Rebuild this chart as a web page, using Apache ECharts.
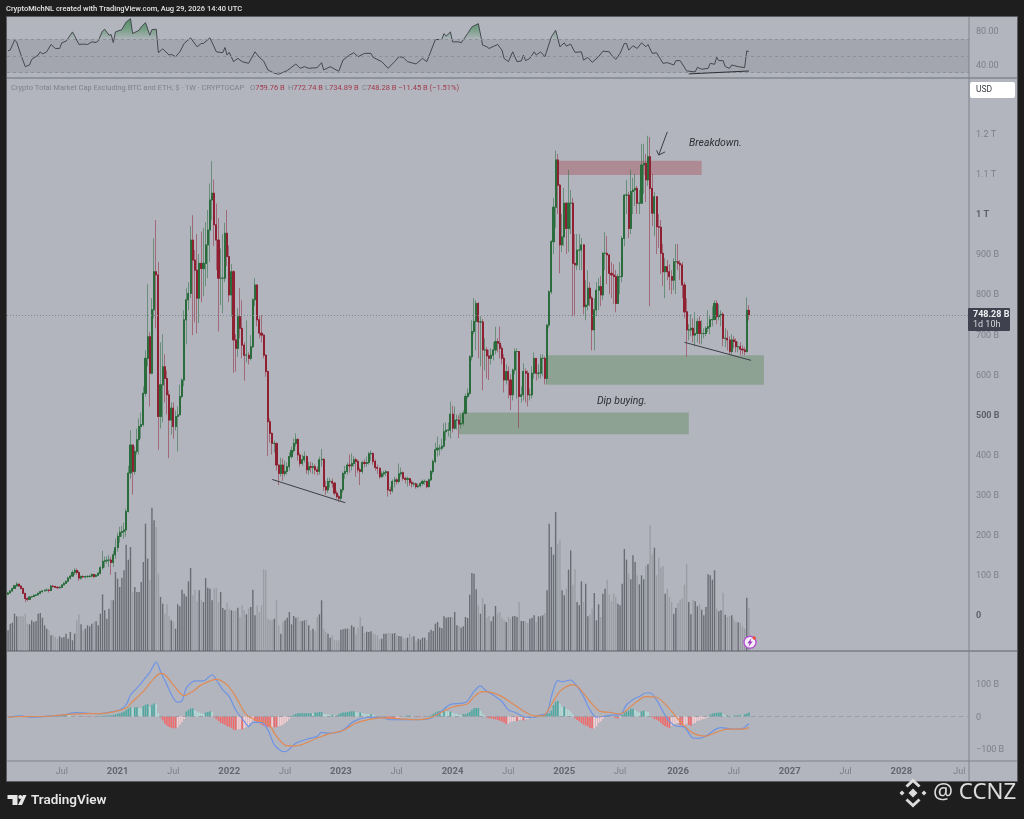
<!DOCTYPE html>
<html><head><meta charset="utf-8">
<style>html,body{margin:0;padding:0;background:#1e1e1e}#c{width:1024px;height:819px}</style>
<script src="https://cdn.jsdelivr.net/npm/echarts@6/dist/echarts.min.js"></script>
</head><body><div id="c"></div>
<script>
// Weekly candles, values in billions of USD
const opens=[52,55,60,66,73,77,72,66,54,41,39,45,46,49,50,54,58,60,62,62,61,72,71,69,68,69,75,79,84,92,97,106,111,106,92,96,95,96,96,97,101,96,99,104,118,134,135,137,137,131,150,168,196,206,208,212,258,354,424,358,408,437,470,475,553,640,694,603,761,856,848,495,574,619,590,549,486,516,470,495,499,545,586,736,786,802,935,885,860,790,877,864,877,923,960,1035,1052,973,935,840,840,840,952,894,798,856,686,665,744,715,673,648,648,640,669,786,823,736,703,698,648,607,482,453,428,428,374,353,374,353,358,370,395,410,428,438,399,378,387,395,362,370,368,370,362,358,387,388,320,312,333,333,329,304,295,291,312,353,358,374,372,378,387,383,362,358,380,378,380,402,403,383,368,366,345,352,355,357,312,310,333,337,333,352,355,341,338,340,330,327,327,320,322,328,333,333,320,337,358,383,412,416,416,421,457,461,461,501,466,486,486,476,478,503,545,553,644,707,732,777,731,731,661,661,646,640,648,661,682,678,665,640,586,607,586,549,611,657,657,545,549,607,603,549,549,603,640,603,603,640,640,590,723,806,931,1017,1135,1072,923,943,1027,964,1027,1027,877,873,910,910,923,769,773,815,790,711,761,810,819,798,902,902,898,852,848,844,777,844,844,939,1047,1047,964,1056,1060,1064,1027,1027,1122,1126,1085,1143,1064,1002,1043,968,967,902,856,869,856,844,835,881,881,877,873,823,756,711,711,715,698,702,732,702,702,702,715,719,736,737,777,744,748,750,690,690,686,657,686,682,669,669,663,661,657,759.76];
const closes=[55,60,66,73,77,72,66,54,41,39,45,46,49,50,54,58,60,62,62,61,72,71,69,68,69,75,79,84,92,97,106,111,106,92,96,95,96,96,97,101,96,99,104,118,134,135,137,137,131,150,168,196,206,208,212,258,354,424,358,408,437,470,475,553,640,694,603,761,856,848,495,574,619,590,549,486,516,470,495,499,545,586,736,786,802,935,885,860,790,877,864,877,923,960,1035,1052,973,935,840,840,840,952,894,798,856,686,665,744,715,673,648,648,640,669,786,823,736,703,698,648,607,482,453,428,428,374,353,374,353,358,370,395,410,428,438,399,378,387,395,362,370,368,370,362,358,387,388,320,312,333,333,329,304,295,291,312,353,358,374,372,378,387,383,362,358,380,378,380,402,403,383,368,366,345,352,355,357,312,310,333,337,333,352,355,341,338,340,330,327,327,320,322,328,333,333,320,337,358,383,412,416,416,421,457,461,461,501,466,486,486,476,478,503,545,553,644,707,732,777,731,731,661,661,646,640,648,661,682,678,665,640,586,607,586,549,611,657,657,545,549,607,603,549,549,603,640,603,603,640,640,590,723,806,931,1017,1135,1072,923,943,1027,964,1027,1027,877,873,910,910,923,769,773,815,790,711,761,810,819,798,902,902,898,852,848,844,777,844,844,939,1047,1047,964,1056,1060,1064,1027,1027,1122,1126,1085,1143,1064,1002,1043,968,967,902,856,869,856,844,835,881,881,877,873,823,756,711,711,715,698,702,732,702,702,702,715,719,736,737,777,744,748,750,690,690,686,657,686,682,669,669,663,661,657,759.76,748.28];
const highs=[58,62,68,75,82,78,74,68,55,44,47,48,51,52,56,60,62,64,66,65,75,75,73,72,72,77,82,86,96,100,112,117,116,110,99,99,98,99,100,104,103,102,108,122,160,146,146,150,145,160,190,205,220,222,230,265,372,461,420,420,465,490,505,570,660,825,705,790,939,985,880,680,700,650,610,560,530,530,510,520,575,590,760,815,830,970,997,910,950,900,956,965,980,1010,1076,1132,1086,1026,990,914,950,978,1010,922,875,860,700,765,815,785,680,735,655,698,790,840,825,745,748,700,650,610,490,455,435,428,375,392,390,385,380,405,420,440,453,440,405,400,408,398,382,382,380,376,370,395,414,392,335,342,342,340,332,310,300,315,358,372,380,400,403,396,392,388,368,385,388,395,407,410,405,388,375,368,358,360,362,358,320,338,345,342,378,368,358,345,345,342,336,332,330,328,332,338,338,335,340,362,388,430,445,425,440,478,480,480,532,522,520,500,498,500,510,552,565,648,735,790,785,780,745,738,690,668,662,665,680,719,690,719,672,650,625,620,600,615,665,665,620,570,628,615,610,565,620,655,640,625,650,650,645,725,810,935,1040,1158,1150,1075,1000,1065,1030,1110,1060,1040,950,950,950,940,925,835,860,830,795,790,830,840,845,905,955,945,900,880,875,860,850,880,945,1050,1085,1055,1110,1090,1100,1070,1060,1175,1175,1150,1195,1192,1100,1055,1045,1000,985,925,890,885,875,860,890,925,925,885,880,830,790,725,750,740,755,740,745,735,715,720,760,745,770,785,785,775,760,755,715,710,695,700,695,690,682,680,672,668,792,772.74];
const lows=[50,54,58,65,70,70,64,52,32,34,38,43,45,47,49,52,56,59,59,56,60,68,67,65,66,68,74,77,82,88,95,100,100,85,88,92,91,92,93,95,92,94,97,101,112,118,128,120,100,120,140,158,180,195,190,195,256,340,300,350,400,400,440,470,545,620,520,600,740,715,412,465,480,530,500,391,450,440,460,408,500,540,570,675,760,790,698,730,702,728,780,795,820,840,880,985,920,860,707,773,752,830,870,780,744,604,607,644,690,640,584,630,625,635,665,770,720,690,680,640,594,396,430,400,405,360,324,345,335,345,350,360,390,405,420,385,370,372,380,352,350,355,352,350,348,350,370,310,300,305,318,318,298,290,282,285,305,340,350,355,360,370,345,355,324,352,368,370,375,385,375,360,352,340,342,345,346,295,300,305,318,325,328,345,335,328,320,322,318,320,315,316,318,322,325,316,318,334,352,378,395,398,410,418,435,445,440,455,462,462,441,465,472,500,540,548,635,700,660,640,620,560,610,590,586,625,635,650,655,640,625,555,575,540,511,535,600,540,466,530,535,530,520,535,540,590,585,590,590,595,575,575,715,800,900,965,1000,852,905,920,900,905,950,745,745,860,860,860,750,735,760,770,660,660,745,760,770,785,860,825,800,790,775,755,775,800,830,920,1000,940,950,1000,1020,1000,1000,1040,1050,1030,1070,770,970,945,900,915,850,820,790,835,810,800,810,800,860,835,790,740,644,685,695,680,670,680,675,675,690,695,705,700,720,735,725,735,720,670,668,660,650,650,665,655,655,648,650,648,655,734.89];
const volumes=[62,82,85,112,104,104,104,104,112,82,80,92,87,90,112,114,100,77,67,62,47,47,42,37,44,40,42,52,37,57,32,52,92,110,80,62,67,77,74,82,87,89,77,112,170,122,97,127,152,152,237,217,192,220,242,319,274,312,177,192,177,177,207,267,382,277,212,430,392,372,232,162,142,112,140,104,92,87,67,140,134,184,172,164,209,249,167,184,149,182,154,147,219,190,187,152,187,190,147,177,129,124,145,127,122,120,122,130,102,137,122,110,127,132,184,107,137,117,137,245,242,97,94,92,97,152,77,52,87,92,100,117,80,105,100,102,90,90,92,94,77,62,67,60,102,110,152,67,57,52,40,47,32,32,32,64,65,67,67,67,77,72,50,70,102,74,54,58,57,59,52,50,47,37,37,52,52,54,54,52,54,47,45,44,40,37,40,52,42,44,30,37,34,40,40,32,56,64,60,82,87,71,68,104,100,101,102,101,117,77,75,70,74,102,99,169,234,232,185,137,112,159,140,100,105,89,104,135,112,117,100,94,87,102,97,104,105,102,147,90,90,87,84,97,100,107,87,104,104,107,114,182,382,312,289,417,322,334,182,167,187,244,302,199,245,147,137,209,147,202,104,110,127,174,92,140,102,172,187,214,170,149,172,162,142,137,202,306,274,232,215,287,267,227,200,227,215,255,260,377,290,310,227,280,250,255,172,187,162,147,112,130,144,154,159,199,260,147,110,154,149,134,140,124,107,132,230,227,214,242,127,119,122,175,109,102,105,107,94,87,86,84,74,67,160,130];
const macdHist=[0,0,0,0,0,-1,-1,-2,-2,-2,-2,-1,-1,-1,-1,-1,-1,0,0,0,1,1,2,2,3,4,5,5,4,3,2,1,0,0,-1,-1,-1,0,0,-1,-1,1,1,2,2,3,3,4,4,5,7,8,10,12,15,20,25,28,27,28,28,26,25,32,36,38,30,36,40,38,10,-3,-12,-22,-28,-32,-35,-36,-36,-33,-25,-18,-8,15,20,25,25,20,15,12,10,8,12,14,16,14,-3,-8,-14,-20,-22,-25,-30,-32,-35,-40,-42,-40,-38,-40,-35,-32,-26,-20,-12,-14,-20,-20,-25,-28,-30,-32,-33,-32,-33,-33,-30,-28,-25,-20,-15,-8,2,5,8,10,10,10,10,10,10,10,9,12,12,14,14,8,7,6,5,5,3,3,7,10,12,12,14,15,16,16,13,12,12,11,9,8,7,7,5,3,2,1,-1,-2,-3,-5,-6,-6,-6,-5,-4,-3,-2,2,3,3,2,-1,-2,-2,-2,-1,1,-1,2,3,8,12,15,17,16,18,16,15,15,12,9,8,5,4,7,8,10,14,20,25,26,26,18,8,3,-4,-5,-6,-8,-9,-11,-13,-15,-19,-23,-22,-17,-15,-14,-14,-11,-10,-12,-9,-8,-4,-2,1,2,3,4,5,6,8,10,18,35,45,48,40,30,30,24,20,15,6,-5,-11,-15,-20,-25,-28,-30,-35,-37,-36,-30,-20,-15,-8,1,3,4,3,-2,-5,-6,-3,5,12,15,18,24,24,20,15,12,16,18,16,14,2,-3,-8,-10,-14,-20,-26,-30,-33,-36,-28,-24,-22,-20,-26,-28,-26,-22,-26,-28,-22,-20,-14,-12,-9,-8,-5,-2,6,9,11,11,12,12,7,4,4,3,2,3,3,3,5,3,7,9,12];
const rsiWeeks=[0,1,3,4,6,8,10,11,14,15,16,18,20,22,24,25,27,30,31,33,35,37,39,41,42,44,45,47,48,49,50,53,55,57,58,61,62,64,66,67,69,70,72,75,76,78,80,82,85,88,90,91,94,97,100,101,102,103,105,107,109,112,115,117,119,121,124,126,130,134,136,138,140,144,146,147,150,154,156,159,161,163,166,169,170,174,177,180,182,184,186,190,193,195,199,202,203,204,206,207,210,211,214,216,219,221,223,224,228,230,231,233,235,237,239,240,241,243,245,246,248,250,253,255,257,259,260,262,264,267,268,270,272,275,277,280,281,283,285,287,288,289,291,293,295,297,298,300,302,305,307,310,311,313,316,320,321,323,326,327,329,330,331,333,334,336,337,340,343,344,345];
const rsiValues=[56.2,57,68.9,66.9,51.1,37.2,39.2,45.9,51.1,55,52.3,55,63.8,59,59,65.7,67.7,78.8,74.1,63.8,64.2,63.8,66.9,66.1,68.1,80,82,74.9,75.6,66.1,78.8,81.6,90.7,94.7,76.8,80.8,84.8,89.9,74.9,81.6,82,53.9,58.6,51.1,51.9,49.1,55,65,71.7,61,65,65,71.7,55,53.9,60.2,51.1,54.3,43.2,47.1,43.2,41.2,55,48.3,44,33.3,29.3,28.1,32.5,40.4,35.2,37.2,35.2,36,42,33.3,37.2,31.7,45.1,51.1,53.9,49.1,53.1,53.1,48.3,43.2,35.2,43.2,49.1,48.3,43.2,40.4,47.1,43.2,69.7,69.7,76.8,73.7,78.8,66.9,66.9,65.7,76.8,84.8,88.7,63,61,59,63.8,57,47.1,43.2,55,43.2,44,51.1,44.4,47.1,55,51.1,55,49.1,72.9,80.8,61,65.7,61.8,64.2,54.3,55,45.1,48.3,42.4,49.1,55.8,55,51.1,45.9,53.1,65,65,57,62.2,59,65.7,61,63.8,53.1,53.9,41.2,42,39.2,44.4,44.4,32.1,30.9,36.4,34.1,35.2,41.2,40,48.3,44.4,44.4,37.2,35.2,39.2,37.2,36,56.2,55];
const macdWeeks=[0,6,10,20,26,31,37,43,48,52,55,57,60,62,65,66,69,71,74,77,79,81,83,86,88,91,95,97,100,103,106,110,112,114,118,121,124,127,129,131,134,140,144,146,149,155,161,167,173,178,183,189,196,201,206,212,214,217,220,222,227,230,233,236,241,245,248,251,253,256,258,262,265,268,271,274,277,282,285,288,292,294,297,299,302,305,308,311,315,319,322,326,329,332,338,342,345];
const macdValues=[-2,2,-2,2,5,12,10,9,14,20,36,66,87,102,128,135,167,138,97,56,44,48,87,107,109,109,128,112,82,61,20,-15,-31,-18,-18,-41,-87,-105,-108,-100,-82,-68,-61,-49,-51,-46,-15,-3,-2,-10,-10,-10,-7,12,37,41,48,77,94,82,61,46,20,13,-2,-3,5,10,61,110,107,112,92,61,20,-2,0,5,5,36,56,61,72,72,51,15,-15,-29,-33,-66,-67,-56,-41,-34,-39,-37,-22];
const signalWeeks=[0,6,15,26,35,43,49,55,58,63,68,71,73,77,82,86,90,97,102,106,111,116,121,125,130,134,144,149,156,162,169,175,183,190,196,201,207,214,217,221,225,230,235,241,245,249,253,257,263,266,271,276,280,285,291,297,302,307,313,319,325,330,335,342,345];
const signalValues=[-3,0,0,5,9,9,14,26,46,77,117,132,128,97,64,77,97,114,97,61,5,-12,-20,-61,-90,-90,-66,-54,-43,-20,-8,-4,-7,-10,-5,10,29,39,61,76,74,61,39,13,2,2,36,77,98,87,46,15,13,8,36,61,59,31,-15,-51,-60,-48,-39,-39,-34];
const rsiTrendA=[[317,28.5],[345,32]];
const fallTrendA=[[123,338],[157,280]];
const fallTrendB=[[315,680],[346,635]];
const arrowFrom=[307,1205], arrowTo=[303,1147], arrowWingA=[302.4,1159], arrowWingB=[306,1155];
const redZone=[256,323,1097,1133];
const greenZoneA=[251,352,574,648];
const greenZoneB=[210,317,451,505];
const lastClose=748.28;
const tickWeeks=[25,51,77,103,129,155,181,207,233,259,285,312,338,364,390,416,443];
const tickLabels=['Jul','2021','Jul','2022','Jul','2023','Jul','2024','Jul','2025','Jul','2026','Jul','2027','Jul','2028','Jul'];
const priceTicks=[0,100,200,300,400,500,600,700,800,900,1000,1100,1200];
const rsiTicks=[40,80];
const macdTicks=[-100,0,100];

const categories=[];
for(let i=0;i<448;i++){const d=new Date(Date.UTC(2020,0,6+7*i));categories.push(d.toISOString().slice(0,10));}
const zip=(a,b)=>a.map((v,i)=>[v,b[i]]);
const FONT='Roboto, "Liberation Sans", sans-serif';
const AX='#7c7f88';
const L=7,W=962;
const fmtPrice=v=>{
  if(v===0) return '{b|0}';
  if(v===500) return '{b|500 B}';
  if(v===1000) return '{b|1 T}';
  if(v>1000) return (v/1000).toFixed(1)+' T';
  return v+' B';
};
const hidX=g=>({type:'category',gridIndex:g,data:categories,boundaryGap:true,axisLine:{show:false},axisTick:{show:false},axisLabel:{show:false},splitLine:{show:false}});
const yBase=(g,min,max,ticks,fmt)=>({type:'value',gridIndex:g,position:'right',min,max,scale:false,
  axisLine:{show:false},axisTick:{show:false},splitLine:{show:false},
  axisLabel:{customValues:ticks,color:AX,fontFamily:FONT,fontSize:9,margin:7,padding:[2,0,0,0],formatter:fmt,
    rich:{b:{color:'#5d6068',fontFamily:FONT,fontSize:9,fontWeight:'bold'}}}});
const overbought={type:'linear',x:0,y:78,x2:0,y2:17,global:true,colorStops:[
  {offset:0,color:'rgba(82,145,96,0)'},{offset:0.634,color:'rgba(82,145,96,0)'},
  {offset:0.634,color:'rgba(82,145,96,0.05)'},{offset:0.8,color:'rgba(70,140,88,0.55)'},{offset:1,color:'rgba(60,130,80,0.85)'}]};
const histColor=(v,i)=>{
  const p=i?macdHist[i-1]:0;
  if(v>=0) return v>=p?'#4ea89f':'#b3dcd8';
  return v<=p?'#ee6b6b':'#f6cdd0';
};
const labelO=(x,letter,val)=>({type:'text',silent:true,z:20,x,y:88,style:{text:'{o|'+letter+'}'+val,fill:'#a03a4a',font:'7.5px '+FONT,textVerticalAlign:'middle',rich:{o:{fill:'#7f828b',font:'7.5px '+FONT}}}});
const option={
  backgroundColor:'#1e1e1e',animation:false,
  grid:[
    {left:L,width:W,top:17,height:61,containLabel:false},
    {left:L,width:W,top:78,height:573,containLabel:false},
    {left:L,width:W,top:651,height:110,containLabel:false}
  ],
  xAxis:[hidX(0),hidX(1),
    Object.assign(hidX(2),{axisLabel:{show:true,color:AX,fontFamily:FONT,fontSize:9,margin:6,hideOverlap:false,
      interval:(i)=>tickWeeks.includes(i),
      formatter:(v,i)=>{const k=tickWeeks.indexOf(i);if(k<0)return '';const t=tickLabels[k];return t==='Jul'?t:'{y|'+t+'}';},
      rich:{y:{color:'#63666e',fontFamily:FONT,fontSize:9.5,fontWeight:'bold'}}}})
  ],
  yAxis:[
    yBase(0,23.6,96.7,rsiTicks,v=>v.toFixed(2)),
    yBase(1,-89.8,1339.2,priceTicks,fmtPrice),
    {type:'value',gridIndex:1,min:0,max:1719,show:false,splitLine:{show:false}},
    yBase(2,-136.5,200.9,macdTicks,v=>v===0?'0':(v<0?'\u2212100 B':'100 B'))
  ],
  series:[
    {name:'RSI',type:'line',xAxisIndex:0,yAxisIndex:0,data:zip(rsiWeeks,rsiValues),showSymbol:false,symbol:'none',z:4,
      lineStyle:{color:'#45484f',width:1},
      areaStyle:{origin:70,color:overbought,opacity:1},
      markArea:{silent:true,itemStyle:{color:'rgba(120,122,130,0.26)'},data:[[{yAxis:30},{yAxis:70}]]},
      markLine:{silent:true,symbol:'none',label:{show:false},lineStyle:{color:'#8d9098',type:[3,3],width:1},data:[{yAxis:70},{yAxis:50},{yAxis:30}]}},
    {name:'RSI trend',type:'line',xAxisIndex:0,yAxisIndex:0,data:rsiTrendA,showSymbol:false,symbol:'none',z:5,lineStyle:{color:'#2e3036',width:1}},
    {name:'Volume',type:'bar',xAxisIndex:1,yAxisIndex:2,barWidth:1.4,z:1,
      data:volumes.map((v,i)=>({value:v,itemStyle:{color:closes[i]>=opens[i]?'#6a6c74':'#9b9da5'}}))},
    {name:'Zones',type:'line',xAxisIndex:1,yAxisIndex:1,data:[],z:2,
      markArea:{silent:true,data:[
        [{coord:[redZone[0],redZone[3]],itemStyle:{color:'rgba(172,110,122,0.6)'}},{coord:[redZone[1],redZone[2]]}],
        [{coord:[greenZoneA[0],greenZoneA[3]],itemStyle:{color:'#8ea294'}},{coord:[greenZoneA[1],greenZoneA[2]]}],
        [{coord:[greenZoneB[0],greenZoneB[3]],itemStyle:{color:'#8ea294'}},{coord:[greenZoneB[1],greenZoneB[2]]}]
      ]}},
    {name:'Wicks',type:'candlestick',xAxisIndex:1,yAxisIndex:1,barWidth:1.6,z:3,
      data:opens.map((o,i)=>[o,closes[i],lows[i],highs[i]]),
      itemStyle:{color:'rgba(46,112,66,0.5)',color0:'rgba(146,44,64,0.5)',borderColor:'rgba(46,112,66,0.55)',borderColor0:'rgba(146,44,64,0.55)',borderWidth:1},
      markLine:{silent:true,symbol:'none',label:{show:false},lineStyle:{color:'#83868e',type:[1,2],width:1},data:[{yAxis:lastClose}]}},
    {name:'Crypto Total Market Cap Excluding BTC and ETH',type:'candlestick',xAxisIndex:1,yAxisIndex:1,barWidth:1.6,z:4,
      data:opens.map((o,i)=>[o,closes[i],Math.min(o,closes[i]),Math.max(o,closes[i])]),
      itemStyle:{color:'#2a6c3c',color0:'#8e2031',borderColor:'#2a6c3c',borderColor0:'#8e2031',borderWidth:1}},
    {name:'Trend A',type:'line',xAxisIndex:1,yAxisIndex:1,data:fallTrendA,showSymbol:false,symbol:'none',z:6,lineStyle:{color:'#3c3e45',width:1}},
    {name:'Trend B',type:'line',xAxisIndex:1,yAxisIndex:1,data:fallTrendB,showSymbol:false,symbol:'none',z:6,lineStyle:{color:'#3c3e45',width:1}},
    {name:'Arrow',type:'line',xAxisIndex:1,yAxisIndex:1,data:[],z:6,
      markLine:{silent:true,label:{show:false},animation:false,symbol:'none',lineStyle:{color:'#3c3e45',width:1,type:'solid'},
        data:[[{coord:arrowFrom},{coord:arrowTo}],[{coord:arrowWingA},{coord:arrowTo}],[{coord:arrowWingB},{coord:arrowTo}]]}},
    {name:'Histogram',type:'bar',xAxisIndex:2,yAxisIndex:3,barWidth:1.6,z:2,
      data:macdHist.map((v,i)=>({value:v,itemStyle:{color:histColor(v,i)}})),
      markLine:{silent:true,symbol:'none',label:{show:false},lineStyle:{color:'#9a9da5',type:[4,4],width:1},data:[{yAxis:0}]}},
    {name:'MACD',type:'line',xAxisIndex:2,yAxisIndex:3,data:zip(macdWeeks,macdValues),showSymbol:false,symbol:'none',smooth:0.3,z:4,lineStyle:{color:'#6f94e4',width:1.2}},
    {name:'Signal',type:'line',xAxisIndex:2,yAxisIndex:3,data:zip(signalWeeks,signalValues),showSymbol:false,symbol:'none',smooth:0.3,z:5,lineStyle:{color:'#df8a54',width:1.2}}
  ],
  graphic:{elements:[
    {type:'rect',silent:true,z:-10,shape:{x:6.5,y:16.5,width:1011,height:765},style:{fill:'#b2b5be',stroke:'#5a5c62',lineWidth:1}},
    {type:'line',silent:true,z:8,shape:{x1:7,y1:78,x2:1017,y2:78},style:{stroke:'#6b6e75',lineWidth:1}},
    {type:'line',silent:true,z:8,shape:{x1:7,y1:651,x2:1017,y2:651},style:{stroke:'#5f6168',lineWidth:1}},
    {type:'line',silent:true,z:8,shape:{x1:7,y1:761,x2:1017,y2:761},style:{stroke:'#7f828a',lineWidth:1}},
    {type:'line',silent:true,z:8,shape:{x1:969,y1:17,x2:969,y2:781},style:{stroke:'#80838b',lineWidth:1}},
    {type:'text',silent:true,z:20,x:6,y:9,style:{text:'CryptoMichNL created with TradingView.com, Aug 29, 2026 14:40 UTC',fill:'#e4e4e4',font:'500 7.5px '+FONT,textVerticalAlign:'middle'}},
    {type:'text',silent:true,z:20,x:11,y:88,style:{text:'Crypto Total Market Cap Excluding BTC and ETH, $ \u00b7 1W \u00b7 CRYPTOCAP',fill:'#7f828b',font:'7.5px '+FONT,textVerticalAlign:'middle'}},
    labelO(250,'O','759.76 B'),labelO(288,'H','772.74 B'),labelO(325,'L','734.89 B'),labelO(362,'C','748.28 B'),
    {type:'text',silent:true,z:20,x:398,y:88,style:{text:'\u221211.45 B (\u22121.51%)',fill:'#a03a4a',font:'7.5px '+FONT,textVerticalAlign:'middle'}},
    {type:'text',silent:true,z:20,x:689,y:143,style:{text:'Breakdown.',fill:'#2c2e33',font:'italic 10.4px '+FONT,textVerticalAlign:'middle'}},
    {type:'text',silent:true,z:20,x:597,y:401,style:{text:'Dip buying.',fill:'#2c2e33',font:'italic 10.4px '+FONT,textVerticalAlign:'middle'}},
    {type:'rect',silent:true,z:20,shape:{x:970,y:82,width:45,height:16,r:2},style:{fill:'#ffffff'}},
    {type:'text',silent:true,z:21,x:976,y:90,style:{text:'USD',fill:'#3a3c42',font:'8.5px '+FONT,textVerticalAlign:'middle'}},
    {type:'rect',silent:true,z:20,shape:{x:968,y:308,width:42,height:23,r:1},style:{fill:'#3f424e'}},
    {type:'text',silent:true,z:21,x:973,y:314.5,style:{text:'748.28 B',fill:'#f0f0f2',font:'bold 9px '+FONT,textVerticalAlign:'middle'}},
    {type:'text',silent:true,z:21,x:973,y:325,style:{text:'1d 10h',fill:'#d5d6da',font:'9px '+FONT,textVerticalAlign:'middle'}},
    {type:'circle',silent:true,z:20,shape:{cx:750,cy:642.3,r:6},style:{fill:'#f6eef9',stroke:'#b455cf',lineWidth:1.4}},
    {type:'polygon',silent:true,z:21,shape:{points:[[751.5,638],[747.3,643.2],[749.5,643.2],[748.5,646.8],[752.7,641.6],[750.5,641.6]]},style:{fill:'#a13cc4'}},
    {type:'circle',silent:true,z:21,shape:{cx:754.2,cy:638,r:1.7},style:{fill:'#e8503a'}},
    {type:'polygon',silent:true,z:20,shape:{points:[[7.5,795],[17.5,795],[17.5,805],[12.5,805],[12.5,799],[7.5,799]]},style:{fill:'#e6e6e6'}},
    {type:'circle',silent:true,z:20,shape:{cx:20.3,cy:797,r:2},style:{fill:'#e6e6e6'}},
    {type:'polygon',silent:true,z:20,shape:{points:[[23,795],[26.5,795],[22,805],[18,805]]},style:{fill:'#e6e6e6'}},
    {type:'text',silent:true,z:20,x:31,y:800.5,style:{text:'TradingView',fill:'#e6e6e6',font:'600 13.5px '+FONT,textVerticalAlign:'middle'}},
    {type:'polygon',silent:true,z:20,shape:{points:[[913,788.5],[917.5,793],[913,797.5],[908.5,793]]},style:{fill:'#dcdcdc'}},
    {type:'polygon',silent:true,z:20,shape:{points:[[902,790.5],[904.5,793],[902,795.5],[899.5,793]]},style:{fill:'#dcdcdc'}},
    {type:'polygon',silent:true,z:20,shape:{points:[[924,790.5],[926.5,793],[924,795.5],[921.5,793]]},style:{fill:'#dcdcdc'}},
    {type:'polyline',silent:true,z:20,shape:{points:[[906.5,786.5],[913,780.5],[919.5,786.5]]},style:{stroke:'#dcdcdc',lineWidth:3,fill:'none'}},
    {type:'polyline',silent:true,z:20,shape:{points:[[906.5,799.5],[913,805.5],[919.5,799.5]]},style:{stroke:'#dcdcdc',lineWidth:3,fill:'none'}},
    {type:'text',silent:true,z:20,x:933,y:793,style:{text:'@ CCNZ',fill:'#dcdcdc',font:'22.3px "Noto Sans", '+FONT,textVerticalAlign:'middle'}}
  ]}
};
const chart=echarts.init(document.getElementById('c'),null,{renderer:'canvas',width:1024,height:819});
chart.setOption(option);
</script></body></html>
